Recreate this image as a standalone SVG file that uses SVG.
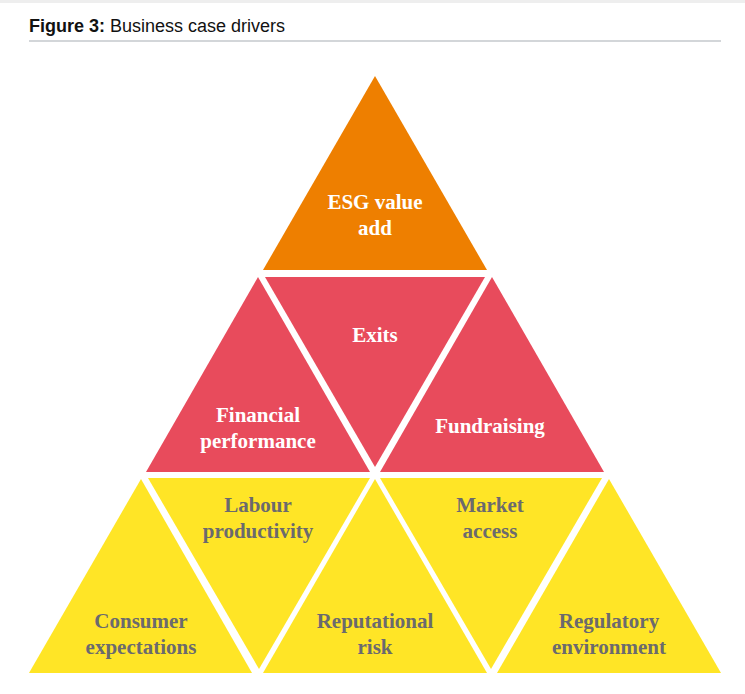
<svg xmlns="http://www.w3.org/2000/svg" width="745" height="694" viewBox="0 0 745 694">
<style>
.o{fill:#EE7F00}.r{fill:#E84B5C}.y{fill:#FFE526}
text{font-family:"Liberation Serif","DejaVu Serif",serif;font-weight:bold;font-size:21px;text-anchor:middle}
.w{fill:#fff}.g{fill:#6B6A6E}
.t{font-family:"Liberation Sans",Arial,sans-serif;font-size:18px;text-anchor:start;fill:#111;font-weight:normal}
</style>
<rect width="745" height="694" fill="#fff"/>
<rect width="745" height="3" fill="#eee"/>
<text class="t" x="29" y="32"><tspan font-weight="bold">Figure 3:</tspan> Business case drivers</text>
<line x1="29" y1="41" x2="721" y2="41" stroke="#d3d6d9" stroke-width="2"/>
<g id="esg"><polygon class="o" points="375,76 263,270 487,270"/><text class="w" x="375" y="209">ESG value</text><text class="w" x="375" y="235">add</text></g>
<g id="financial"><polygon class="r" points="258,277 146,472 370,472"/><text class="w" x="258" y="422">Financial</text><text class="w" x="258" y="448">performance</text></g>
<g id="exits"><polygon class="r" points="265,277 485,277 375,467"/><text class="w" x="375" y="342">Exits</text></g>
<g id="fundraising"><polygon class="r" points="492,277 380,472 604,472"/><text class="w" x="490" y="433">Fundraising</text></g>
<g id="consumer"><polygon class="y" points="141,479 29,673 252,673"/><text class="g" x="141" y="628">Consumer</text><text class="g" x="141" y="654">expectations</text></g>
<g id="labour"><polygon class="y" points="148,478 370,478 259,669"/><text class="g" x="258" y="512">Labour</text><text class="g" x="258" y="538">productivity</text></g>
<g id="reputational"><polygon class="y" points="375,479 263,673 487,673"/><text class="g" x="375" y="628">Reputational</text><text class="g" x="375" y="654">risk</text></g>
<g id="market"><polygon class="y" points="380,478 602,478 491,669"/><text class="g" x="490" y="512">Market</text><text class="g" x="490" y="538">access</text></g>
<g id="regulatory"><polygon class="y" points="609,479 497,673 721,673"/><text class="g" x="609" y="628">Regulatory</text><text class="g" x="609" y="654">environment</text></g>
<g id="connectors"/>
</svg>
